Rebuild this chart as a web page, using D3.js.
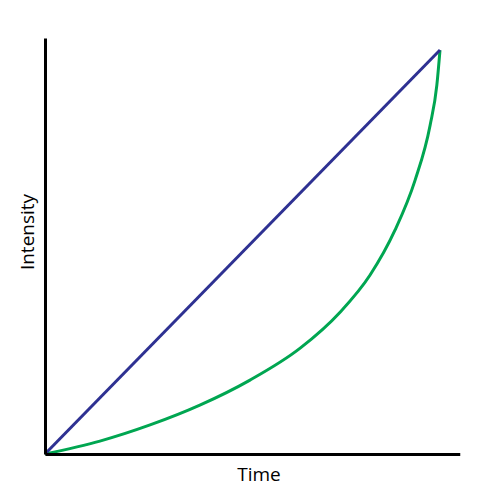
<!DOCTYPE html>
<html><head><meta charset="utf-8">
<script src="https://cdn.jsdelivr.net/npm/d3@7"></script>
<style>body{margin:0;background:#fff}</style></head>
<body><svg id="c" width="500" height="500"></svg>
<script>
const linearX = [0, 100];
const linearY = [0, 100];
const curveX = [0, 13.9, 26.6, 39.2, 51.9, 64.6, 74.7, 82.3, 88.6, 93.7, 97.5, 99.2, 100];
const curveY = [0, 3.2, 7.2, 12.1, 18.3, 26.2, 35.1, 44.3, 55.4, 67.8, 81.4, 91.3, 100];
const xLabel = "Time", yLabel = "Intensity";

const svg = d3.select("#c");
const x = d3.scaleLinear().domain([0, 105]).range([45, 459.75]);
const y = d3.scaleLinear().domain([0, 103]).range([454, 37.9]);

const line = d3.line().x(d => x(d[0])).y(d => y(d[1]));
svg.append("path").datum(curveX.map((v, i) => [v, curveY[i]]))
  .attr("d", line.curve(d3.curveMonotoneX)).attr("fill", "none")
  .attr("stroke", "#00a651").attr("stroke-width", 3);
svg.append("path").datum(linearX.map((v, i) => [v, linearY[i]]))
  .attr("d", d3.line().x(d => x(d[0])).y(d => y(d[1]))).attr("fill", "none")
  .attr("stroke", "#2e3192").attr("stroke-width", 3);

const ax = svg.append("g").attr("transform", `translate(0,${y(0)})`)
  .call(d3.axisBottom(x).tickValues([]).tickSizeOuter(0));
const ay = svg.append("g").attr("transform", `translate(${x(0)},0)`)
  .call(d3.axisLeft(y).tickValues([]).tickSizeOuter(0));
svg.selectAll(".domain").attr("stroke", "#000").attr("stroke-width", 3);

svg.append("text").attr("x", 259).attr("y", 481).attr("text-anchor", "middle")
  .attr("font-family", "Open Sans, sans-serif").attr("font-size", 19).text(xLabel);
svg.append("text").attr("transform", "translate(34,232) rotate(-90)").attr("text-anchor", "middle")
  .attr("font-family", "Open Sans, sans-serif").attr("font-size", 19).text(yLabel);
</script></body></html>
